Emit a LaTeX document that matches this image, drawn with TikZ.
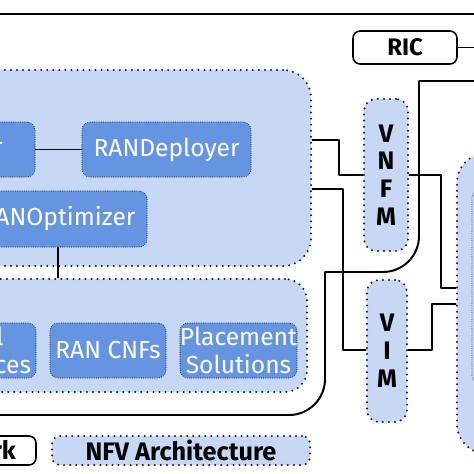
\documentclass[tikz,border=0pt]{standalone}
\usepackage{fontspec}
\setmainfont{Fira Sans}
\definecolor{nfvlight}{RGB}{198,216,244}
\definecolor{nfvdark}{RGB}{101,148,224}
\definecolor{dotline}{RGB}{18,26,52}
\begin{document}
\begin{tikzpicture}[x=0.025cm,y=-0.025cm,line join=round,line cap=round]
	\tikzset{
		region/.style={draw=dotline,fill=nfvlight,line width=1.6pt,dash pattern=on 0pt off 4.3pt,rounded corners=0.7cm,inner sep=0pt},
		block/.style={draw=dotline,fill=nfvdark,line width=0.7pt,dash pattern=on 0pt off 1.6pt,rounded corners=0.2cm,inner sep=0pt,text=white,align=center,font=\fontsize{17.5}{19.5}\selectfont},
		tag/.style={font=\fontsize{18}{20}\selectfont\bfseries,align=center},
		link/.style={draw=black,line width=0.9pt}
	}
	\clip (0,0) rectangle (474,474);
	% top rule and framework border
	\draw[line width=1.1pt] (0,14) -- (474,14);
	\draw[line width=1.4pt] (474,81) -- (419,81) -- (419,236) arc(0:90:36) -- (325,272) -- (325,379) arc(0:90:36) -- (0,415);
	% RIC
	\node[draw,line width=1.1pt,rounded corners=0.18cm,minimum width=2.6cm,minimum height=0.825cm,tag,font=\fontsize{17}{20}\selectfont\bfseries] (ric) at (405,47.5) {RIC};
	\coordinate (ricout) at (474,47.5);
	\draw[link] (ric.east) -- (ricout);
	% RAN side
	\node[region,minimum width=8.525cm,minimum height=4.9cm] (up) at (140.5,168) {};
	\node[region,rounded corners=0.55cm,minimum width=8.425cm,minimum height=2.825cm] (low) at (138.5,335.5) {};
	\node[block,minimum width=5.15cm,minimum height=1.375cm] (mgr) at (-68,149.5) {RANManager};
	\node[block,minimum width=4.225cm,minimum height=1.375cm] (dep) at (166.5,149.5) {RANDeployer};
	\node[block,minimum width=4.45cm,minimum height=1.4cm] (opt) at (58,219) {RANOptimizer};
	\node[block,minimum width=3.075cm,minimum height=1.375cm] (res) at (-25.5,350.5) {Local\\Resources};
	\node[block,minimum width=2.9cm,minimum height=1.375cm] (cnf) at (108,350.5) {RAN CNFs};
	\node[block,minimum width=2.925cm,minimum height=1.375cm] (sol) at (238.5,350.5) {Placement\\Solutions};
	\draw[link] (mgr.east) -- (dep.west);
	\draw[link] (opt.south) -- (low.north -| opt.south);
	% NFV side
	\node[region,rounded corners=0.3cm,minimum width=1.1cm,minimum height=3.8cm,tag,font=\fontsize{18}{19.8}\selectfont\bfseries] (vnfm) at (386,175) {V\\N\\F\\M};
	\node[region,rounded corners=0.3cm,minimum width=1.0cm,minimum height=3.55cm,tag,font=\fontsize{18}{19.8}\selectfont\bfseries] (vim) at (387,351) {V\\I\\M};
	\node[region,rounded corners=0.75cm,minimum width=3cm,minimum height=7.525cm] (nfvi) at (517,303.5) {};
	\node[block,fill=nfvlight,minimum width=2cm,minimum height=4.85cm] (nfvin) at (512,287) {};
	\draw[link] (up.east |- 0,140) -| (339,175) -- (vnfm.west);
	\draw[link] (up.east |- 0,189) -| (343,350) -- (vim.west |- 0,350);
	\draw[link] (vnfm.east) -| (441,288) -- (nfvi.west |- 0,288);
	\draw[link] (vim.east |- 0,350) -| (432,304) -- (nfvi.west |- 0,304);
	% legend
	\node[draw,line width=1.1pt,rounded corners=0.18cm,minimum width=4.2cm,minimum height=0.725cm,tag] (lgfw) at (-48,450.5) {Framework};
	\node[region,rounded corners=0.2cm,minimum width=6.45cm,minimum height=0.725cm,tag] (lgnfv) at (181,450.5) {NFV Architecture};
\end{tikzpicture}
\end{document}
